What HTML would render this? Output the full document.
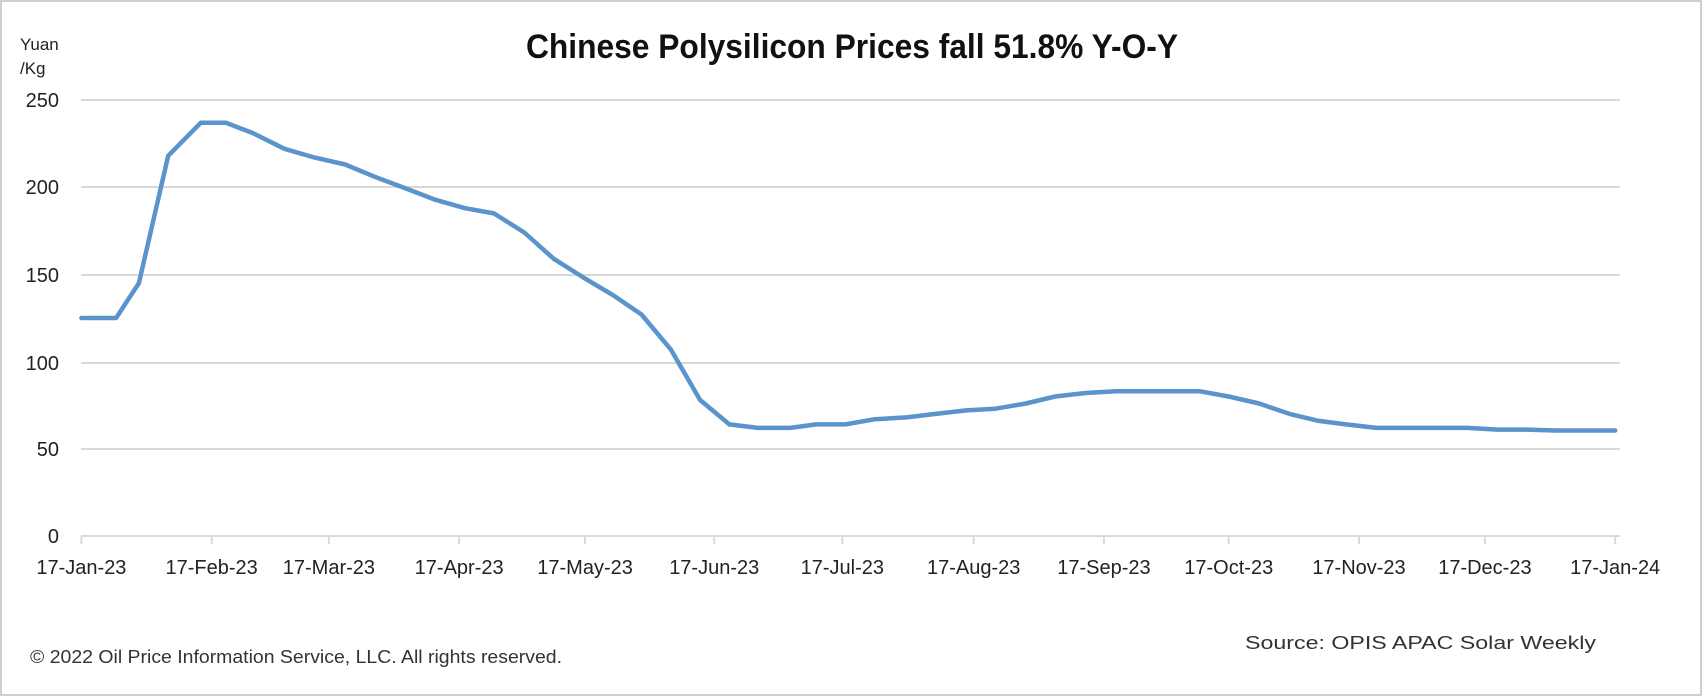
<!DOCTYPE html>
<html><head><style>
html,body{margin:0;padding:0;background:#fff}
svg{display:block}
text{font-family:"Liberation Sans",sans-serif;fill:#222}
</style></head><body>
<svg width="1702" height="696" viewBox="0 0 1702 696">
<rect x="1" y="1" width="1700" height="694" fill="#fff" stroke="#cfcfcf" stroke-width="2"/>
<text x="526" y="58" font-size="34" font-weight="bold" textLength="652" lengthAdjust="spacingAndGlyphs" style="fill:#111">Chinese Polysilicon Prices fall 51.8% Y-O-Y</text>
<text x="20" y="50" font-size="17">Yuan</text>
<text x="20" y="74" font-size="17">/Kg</text>
<g stroke="#d9d9d9" stroke-width="2">
<line x1="81" y1="100" x2="1620" y2="100"/>
<line x1="81" y1="187" x2="1620" y2="187"/>
<line x1="81" y1="275" x2="1620" y2="275"/>
<line x1="81" y1="363" x2="1620" y2="363"/>
<line x1="81" y1="449" x2="1620" y2="449"/>
<line x1="81" y1="536" x2="1620" y2="536"/>
</g>
<g font-size="20" text-anchor="end">
<text x="59" y="107">250</text><text x="59" y="194">200</text><text x="59" y="282">150</text>
<text x="59" y="370">100</text><text x="59" y="456">50</text><text x="59" y="543">0</text>
</g>
<g id="ticks" stroke="#d9d9d9" stroke-width="2"></g>
<g id="xl" font-size="20" text-anchor="middle"></g>
<polyline id="ln" fill="none" stroke="#5b93cb" stroke-width="4.5" stroke-linejoin="round" stroke-linecap="round"/>
<text x="30" y="663" font-size="18" textLength="532" lengthAdjust="spacingAndGlyphs" style="fill:#333">© 2022 Oil Price Information Service, LLC. All rights reserved.</text>
<text x="1245" y="649" font-size="18" textLength="351" lengthAdjust="spacingAndGlyphs" style="fill:#333">Source: OPIS APAC Solar Weekly</text>
</svg>
<script>
var s=1702/1568;
var tx=[75,195,303,423,539,658,776,897,1017,1132,1252,1368,1488];
var lab=["17-Jan-23","17-Feb-23","17-Mar-23","17-Apr-23","17-May-23","17-Jun-23","17-Jul-23","17-Aug-23","17-Sep-23","17-Oct-23","17-Nov-23","17-Dec-23","17-Jan-24"];
var ns="http://www.w3.org/2000/svg",t=document.getElementById('ticks'),xl=document.getElementById('xl');
tx.forEach(function(x,i){var X=x*s;var l=document.createElementNS(ns,'line');l.setAttribute('x1',X);l.setAttribute('x2',X);l.setAttribute('y1',536);l.setAttribute('y2',544);t.appendChild(l);
var e=document.createElementNS(ns,'text');e.setAttribute('x',X);e.setAttribute('y',574);e.textContent=lab[i];xl.appendChild(e);});
var d=[[75,125],[107,125],[128,145],[155,218],[185,237],[208,237],[233,231],[262,222],[290,217],[318,213],[345,206],[375,199],[400,193],[428,188],[455,185],[483,174],[510,159],[538,148],[565,138],[591,127],[618,107],[645,78],[672,64],[698,62],[728,62],[752,64],[779,64],[806,67],[835,68],[862,70],[890,72],[917,73],[945,76],[972,80],[1000,82],[1028,83],[1055,83],[1083,83],[1105,83],[1132,80],[1160,76],[1188,70],[1215,66],[1240,64],[1268,62],[1297,62],[1325,62],[1352,62],[1380,61],[1407,61],[1433,60.5],[1460,60.5],[1488,60.5]];
document.getElementById('ln').setAttribute('points',d.map(function(p){return (p[0]*s).toFixed(1)+','+(536-p[1]*1.744).toFixed(1)}).join(' '));
</script>
</body></html>
